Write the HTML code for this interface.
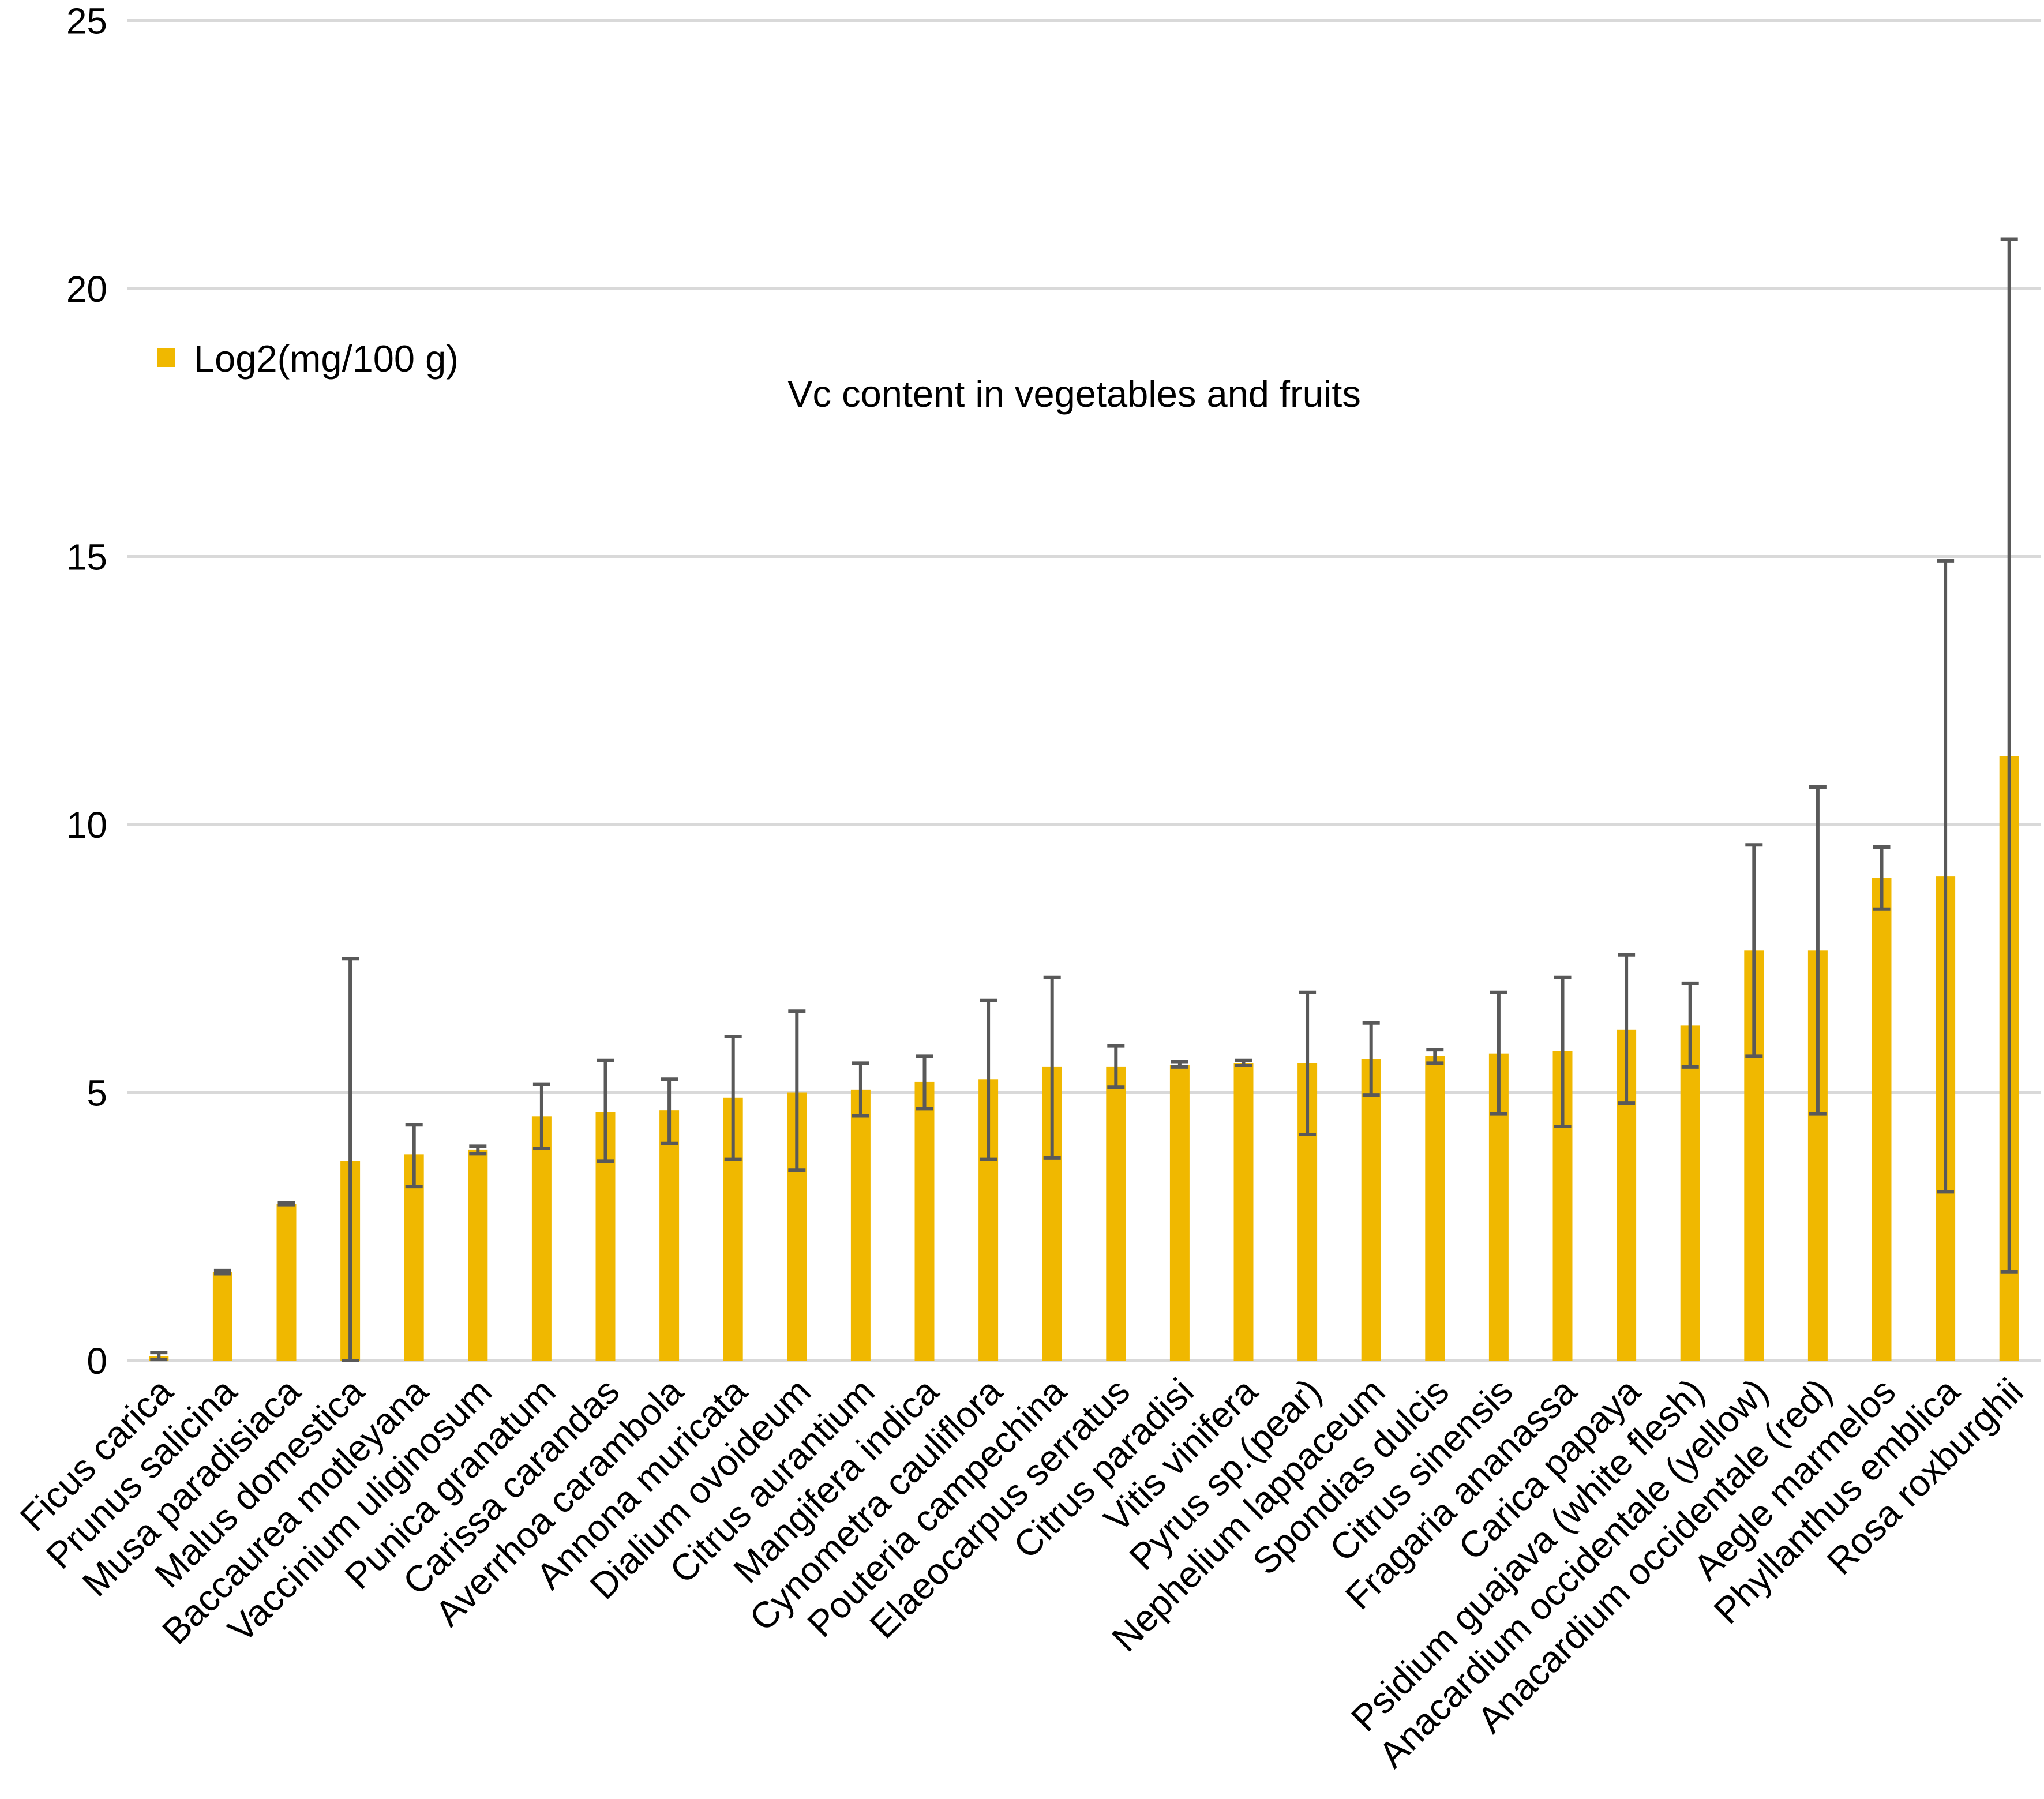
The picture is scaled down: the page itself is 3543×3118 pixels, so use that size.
<!DOCTYPE html>
<html><head><meta charset="utf-8"><style>
html,body{margin:0;padding:0;background:#fff;}
svg{display:block;font-family:"Liberation Sans",Arial,sans-serif;}
</style></head><body>
<svg id="chart" width="3543" height="3118" viewBox="0 0 3543 3118"></svg>
<script>
const categories=["Ficus carica","Prunus salicina","Musa paradisiaca","Malus domestica","Baccaurea motleyana","Vaccinium uliginosum","Punica granatum","Carissa carandas","Averrhoa carambola","Annona muricata","Dialium ovoideum","Citrus aurantium","Mangifera indica","Cynometra cauliflora","Pouteria campechina","Elaeocarpus serratus","Citrus paradisi","Vitis vinifera","Pyrus sp.(pear)","Nephelium lappaceum","Spondias dulcis","Citrus sinensis","Fragaria ananassa","Carica papaya","Psidium guajava (white flesh)","Anacardium occidentale (yellow)","Anacardium occidentale (red)","Aegle marmelos","Phyllanthus emblica","Rosa roxburghii"];
const values=[0.08,1.65,2.92,3.72,3.85,3.93,4.55,4.63,4.67,4.9,5.0,5.05,5.2,5.25,5.48,5.48,5.52,5.55,5.55,5.62,5.68,5.73,5.77,6.17,6.25,7.65,7.65,9.0,9.03,11.28];
const errUpper=[0.15,1.68,2.95,7.5,4.4,4.0,5.15,5.6,5.25,6.05,6.52,5.55,5.68,6.72,7.15,5.87,5.57,5.6,6.87,6.3,5.8,6.87,7.15,7.57,7.03,9.62,10.7,9.58,14.92,20.92];
const errLower=[0.02,1.62,2.9,0,3.25,3.86,3.95,3.72,4.05,3.75,3.55,4.57,4.7,3.75,3.78,5.1,5.48,5.5,4.22,4.95,5.55,4.6,4.37,4.8,5.48,5.68,4.6,8.42,3.15,1.65];
const yTicks=[0,5,10,15,20,25];

const NS="http://www.w3.org/2000/svg";
const svg=document.getElementById('chart');
const X0=220,X1=3538,Y0=2358,PER=92.9;
const band=(X1-X0)/categories.length;
const xC=i=>X0+band*(i+0.5);
const yS=v=>Y0-v*PER;
function mk(tag,attrs,parent){const e=document.createElementNS(NS,tag);for(const k in attrs)e.setAttribute(k,attrs[k]);(parent||svg).appendChild(e);return e;}

yTicks.forEach(t=>{
  const g=mk('line',{x1:X0,x2:X1,y1:yS(t),y2:yS(t),stroke:'#d9d9d9','stroke-width':5});
  
  
  const l=mk('text',{x:186,y:yS(t)+23,'text-anchor':'end','font-size':64,fill:'#000'});
  l.textContent=t;
  
  
});

const bw=34,cap=30;
categories.forEach((c,i)=>{
  const cx=xC(i);
  const b=mk('rect',{x:cx-bw/2,y:yS(values[i]),width:bw,height:Y0-yS(values[i]),fill:'#F0B800'});
  
  
  const eg=mk('g',{stroke:'#595959','stroke-width':6});
  
  
  mk('line',{x1:cx,x2:cx,y1:yS(errUpper[i]),y2:yS(errLower[i])},eg);
  mk('line',{x1:cx-cap/2,x2:cx+cap/2,y1:yS(errUpper[i]),y2:yS(errUpper[i])},eg);
  mk('line',{x1:cx-cap/2,x2:cx+cap/2,y1:yS(errLower[i]),y2:yS(errLower[i])},eg);
  const tx=cx+28,ty=Y0+58;
  const t=mk('text',{x:tx,y:ty,'text-anchor':'end','font-size':64,fill:'#000',transform:`rotate(-45 ${tx} ${ty})`});
  t.textContent=c;
  
  
});
</script>
<script>
(function(){
const NS="http://www.w3.org/2000/svg";const svg=document.getElementById('chart');
const lg=document.createElementNS(NS,'g');


svg.appendChild(lg);
const sq=document.createElementNS(NS,'rect');
sq.setAttribute('x',272);sq.setAttribute('y',604);sq.setAttribute('width',32);sq.setAttribute('height',32);sq.setAttribute('fill','#F0B800');


lg.appendChild(sq);
const lt=document.createElementNS(NS,'text');
lt.setAttribute('x',336);lt.setAttribute('y',644);lt.setAttribute('font-size',65);lt.textContent='Log2(mg/100 g)';


lg.appendChild(lt);
const ti=document.createElementNS(NS,'text');
ti.setAttribute('x',1862);ti.setAttribute('y',705);ti.setAttribute('font-size',65);ti.setAttribute('text-anchor','middle');ti.textContent='Vc content in vegetables and fruits';


svg.appendChild(ti);
})();
</script>
</body></html>
